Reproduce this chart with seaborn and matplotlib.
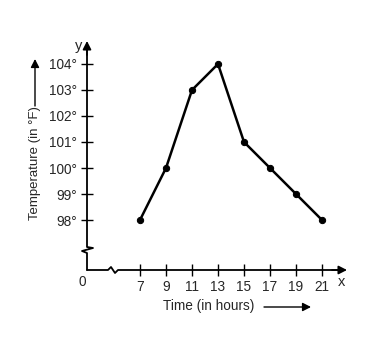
import matplotlib
matplotlib.use("Agg")
import matplotlib.pyplot as plt
import seaborn as sns
import pandas as pd

hours = [7, 9, 11, 13, 15, 17, 19, 21]
temps = [98, 100, 103, 104, 101, 100, 99, 98]
ytick_vals = [98, 99, 100, 101, 102, 103, 104]
ytick_labels = ["98°", "99°", "100°", "101°", "102°", "103°", "104°"]
xtick_labels = ["7", "9", "11", "13", "15", "17", "19", "21"]

sns.set_style("white")
plt.rcParams['font.family'] = ['Liberation Sans', 'DejaVu Sans']

W, H = 384, 349
fig = plt.figure(figsize=(W / 100, H / 100), dpi=100)
ox, oy = 87, 270      # origin pixel
rx, ty = 345, 45      # right/top ends of axes
ax = fig.add_axes([ox / W, 1 - oy / H, (rx - ox) / W, (oy - ty) / H])

df = pd.DataFrame({"hour": hours, "temp": temps})
sns.lineplot(data=df, x="hour", y="temp", ax=ax, color="black", linewidth=1.8,
             marker="o", markersize=4.5, markeredgecolor="black", markerfacecolor="black")

ax.set_xlim(7 - (140 - ox) / 13, 7 + (rx - 140) / 13)
ax.set_ylim(98 - (oy - 220) / 26, 98 + (220 - ty) / 26)
for s in ax.spines.values():
    s.set_visible(False)

ax.set_xticks(hours)
ax.set_xticklabels(xtick_labels, fontsize=9.8)
ax.set_yticks(ytick_vals)
ax.set_yticklabels(ytick_labels, fontsize=9.8)
ax.tick_params(axis="both", direction="inout", length=8, width=1, color="black",
               bottom=True, left=True)
ax.tick_params(axis="x", pad=3)
ax.tick_params(axis="y", pad=3)
ax.set_xlabel("")
ax.set_ylabel("")


def P(px, py):
    return (px / W, 1 - py / H)


def line(pts, lw=1.3):
    xs = [p[0] / W for p in pts]
    ys = [1 - p[1] / H for p in pts]
    fig.add_artist(plt.Line2D(xs, ys, color="black", linewidth=lw,
                              transform=fig.transFigure))


def arrow(p0, p1, lw=1.2):
    fig.add_artist(matplotlib.patches.FancyArrowPatch(
        P(*p0), P(*p1), transform=fig.transFigure,
        arrowstyle="-|>,head_length=0.55,head_width=0.28",
        color="black", linewidth=lw, mutation_scale=9, shrinkA=0, shrinkB=0))


# y axis with zigzag break
line([(ox, oy), (ox, 253), (82, 251), (93, 248), (ox, 247), (ox, 50)])
# x axis with zigzag break
line([(ox, oy), (108, oy), (111, 267), (115, 273), (118, oy), (340, oy)])
# arrow heads
arrow((ox, 55), (ox, 41))
arrow((332, oy), (347, oy))

fig.text(*P(79, 46), "y", fontsize=10.5, ha="center", va="center")
fig.text(*P(342, 282), "x", fontsize=10.5, ha="center", va="center")
fig.text(*P(82, 282), "0", fontsize=9.8, ha="center", va="center")

# axis labels with arrows
fig.text(*P(35, 163), "Temperature (in °F)", fontsize=9.5, rotation=90,
         ha="center", va="center")
arrow((35, 106), (35, 59), lw=1.0)
fig.text(*P(209, 306), "Time (in hours)", fontsize=9.8, ha="center", va="center")
arrow((264, 307), (311, 307), lw=1.0)

fig.savefig("out.png", dpi=100)
